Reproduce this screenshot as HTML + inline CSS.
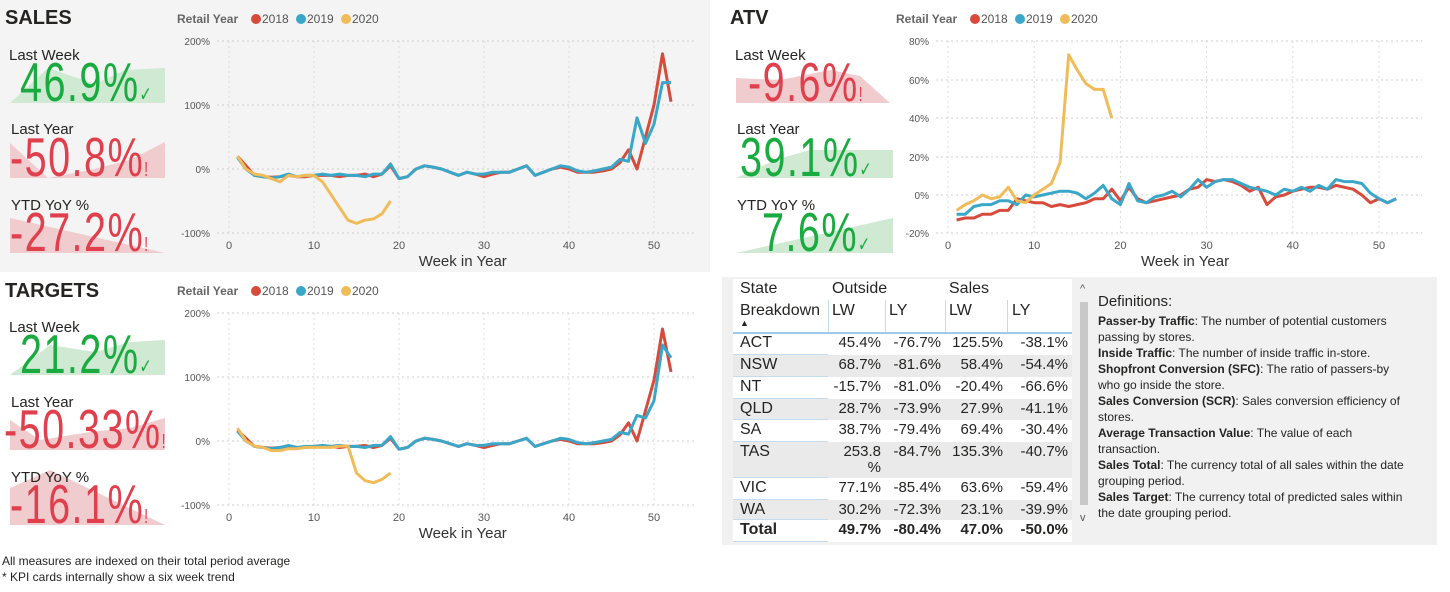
<!DOCTYPE html>
<html><head><meta charset="utf-8"><style>
*{margin:0;padding:0;box-sizing:border-box}
body{width:1450px;height:592px;background:#fff;position:relative;overflow:hidden;font-family:"Liberation Sans",sans-serif;color:#222}
.a{position:absolute;white-space:nowrap}
.ttl{font-weight:bold;font-size:20px;color:#252423}
.lbl{font-size:15px;color:#252423}
.big{font-size:55px;font-weight:300;transform:scaleX(.72);transform-origin:left top;letter-spacing:2px;line-height:50px}
.big span{font-size:20px}
.g{color:#1aab40}.r{color:#e0404d}
.tb{font-size:15px;color:#252423}
.def{font-size:12px;line-height:16px;color:#252423}
</style></head><body>
<div class="a" style="left:0;top:0;width:710px;height:272px;background:#f3f4f3"></div>
<div class="a" style="left:722px;top:277px;width:715px;height:268px;background:#f1f1f1"></div>
<div class="a" style="left:733px;top:279px;width:339px;height:263px;background:#fff"></div>
<svg class="a" style="left:0;top:0" width="1450" height="592" id="sv"></svg>

<div class="a ttl" style="left:5px;top:7px">SALES</div>
<div class="a ttl" style="left:730px;top:7px">ATV</div>
<div class="a ttl" style="left:5px;top:280px">TARGETS</div>

<div class="a lbl" style="left:9px;top:47px">Last Week</div>
<div class="a big g" style="left:20px;top:57px">46.9%<span>✓</span></div>
<div class="a lbl" style="left:11px;top:121px">Last Year</div>
<div class="a big r" style="left:10px;top:132px">-50.8%<span>!</span></div>
<div class="a lbl" style="left:11px;top:197px">YTD YoY %</div>
<div class="a big r" style="left:10px;top:207px">-27.2%<span>!</span></div>

<div class="a lbl" style="left:735px;top:47px">Last Week</div>
<div class="a big r" style="left:748px;top:57px">-9.6%<span>!</span></div>
<div class="a lbl" style="left:737px;top:121px">Last Year</div>
<div class="a big g" style="left:740px;top:132px">39.1%<span>✓</span></div>
<div class="a lbl" style="left:737px;top:197px">YTD YoY %</div>
<div class="a big g" style="left:762px;top:207px">7.6%<span>✓</span></div>

<div class="a lbl" style="left:9px;top:319px">Last Week</div>
<div class="a big g" style="left:20px;top:329px">21.2%<span>✓</span></div>
<div class="a lbl" style="left:11px;top:394px">Last Year</div>
<div class="a big r" style="left:4px;top:404px">-50.33%<span>!</span></div>
<div class="a lbl" style="left:11px;top:469px">YTD YoY %</div>
<div class="a big r" style="left:10px;top:479px">-16.1%<span>!</span></div>

<div class="a def" style="left:2px;top:553px">All measures are indexed on their total period average</div>
<div class="a def" style="left:2px;top:569px">* KPI cards internally show a six week trend</div>

<div class="a" style="left:1080px;top:283px;font-size:11px;color:#555">^</div>
<div class="a" style="left:1080px;top:302px;width:8px;height:203px;background:#c8c8c8"></div>
<div class="a" style="left:1080px;top:512px;font-size:11px;color:#555">v</div>
<div class="a def" style="left:1098px;top:294px;font-size:15px">Definitions:</div>
<div class="a def" style="left:1098px;top:313px;white-space:normal;width:310px">
<b>Passer-by Traffic</b>: The number of potential customers passing by stores.<br>
<b>Inside Traffic</b>: The number of inside traffic in-store.<br>
<b>Shopfront Conversion (SFC)</b>: The ratio of passers-by who go inside the store.<br>
<b>Sales Conversion (SCR)</b>: Sales conversion efficiency of stores.<br>
<b>Average Transaction Value</b>: The value of each transaction.<br>
<b>Sales Total</b>: The currency total of all sales within the date grouping period.<br>
<b>Sales Target</b>: The currency total of predicted sales within the date grouping period.</div>
<div id="tbl"></div>

<script>
var s=document.getElementById('sv'),h='';
function T(x,y,t,o){h+='<text x="'+x+'" y="'+y+'" '+(o||'')+'>'+t+'</text>';}
function area(pts,c){h+='<polygon points="'+pts+'" fill="'+c+'"/>';}
var G='#cfe9d3',R='#f1cccf';
area('10,103 48,68 95,84 125,70 165,68 165,103',G);
area('10,178 10,143 48,178 90,170 130,160 165,142 165,178',R);
area('10,253 10,218 165,253',R);
area('736,103 736,78 780,80 830,70 860,76 890,103','#f1cccf');
area('736,178 775,160 810,150 850,150 893,150 893,178',G);
area('736,253 893,218 893,253',G);
area('10,375 50,345 95,352 130,342 165,340 165,375',G);
area('10,450 10,420 40,440 90,432 130,428 165,418 165,450',R);
area('10,525 10,488 50,470 165,525',R);
function chart(x0,px,ys,yt,ylabs,ds){
 for(var i=0;i<ys.length;i++){h+='<line x1="'+(x0-12)+'" x2="'+(x0+px*55)+'" y1="'+ys[i]+'" y2="'+ys[i]+'" stroke="#ccc" stroke-dasharray="2,3"/>';T(x0-19,ys[i]+4,ylabs[i],'font-size="10" fill="#555" text-anchor="end"');}
 for(var w=0;w<=50;w+=10){var x=x0+w*px;h+='<line x1="'+x+'" x2="'+x+'" y1="'+ys[0]+'" y2="'+ys[ys.length-1]+'" stroke="#ddd" stroke-dasharray="2,3"/>';T(x,ys[ys.length-1]+16,w,'font-size="11" fill="#555" text-anchor="middle"');}
 T(x0+px*27.5,ys[ys.length-1]+33,'Week in Year','font-size="15" fill="#333" text-anchor="middle"');
 var lx=x0-52,ly=ys[0]-18;
 T(lx,ly,'Retail Year','font-size="12" font-weight="bold" fill="#666"');
 var c=['#d64b3c','#3aa7c9','#f0bc5a'],n=['2018','2019','2020'];
 for(var k=0;k<3;k++){var cx=lx+79+k*45;h+='<circle cx="'+cx+'" cy="'+(ly-4)+'" r="5" fill="'+c[k]+'"/>';T(cx+6,ly,n[k],'font-size="12" fill="#555"');}
 for(var k=0;k<3;k++){var p=ds[k].map(function(v,i){return (x0+(i+1)*px).toFixed(1)+','+(yt(v)).toFixed(1)}).join(' ');h+='<polyline points="'+p+'" fill="none" stroke="'+c[k]+'" stroke-width="3" stroke-linejoin="round"/>';}
}
var s18=[20,5,-10,-12,-13,-12,-10,-12,-12,-10,-10,-10,-12,-10,-10,-8,-12,-8,5,-15,-12,0,5,3,0,-5,-10,-5,-8,-12,-8,-5,-5,0,5,-10,-5,0,3,0,-5,-5,-5,-3,0,10,30,0,50,100,180,105];
var s19=[18,0,-10,-12,-14,-12,-8,-12,-10,-10,-8,-10,-8,-10,-10,-12,-8,-8,8,-15,-12,0,5,3,0,-5,-10,-5,-8,-8,-5,-5,-5,0,5,-10,-5,0,5,3,-3,-5,-3,0,3,15,12,80,40,70,135,135];
var s20=[20,0,-8,-10,-15,-20,-10,-12,-10,-10,-20,-40,-60,-80,-85,-80,-78,-70,-50];
chart(229,8.5,[41,105,169,233],function(v){return 169-v*0.64},['200%','100%','0%','-100%'],[s18,s19,s20]);
var t18=s18.map(function(v,i){return i>44?v*0.95:v*0.85}),t19=s19.map(function(v,i){return i==47?40:(i>44?v*0.9:v*0.85)});
t19[50]=150;t19[51]=130;t18[50]=175;t18[51]=108;
var t20=[20,0,-8,-10,-15,-15,-12,-12,-10,-10,-10,-10,-8,-8,-50,-62,-65,-60,-50];
chart(229,8.5,[313,377,441,505],function(v){return 441-v*0.64},['200%','100%','0%','-100%'],[t18,t19,t20]);
var a18=[-13,-12,-12,-10,-10,-8,-8,-2,-3,-4,-4,-6,-5,-6,-5,-4,-2,-2,3,-3,4,-2,-4,-3,-2,-1,0,3,4,8,7,8,7,5,2,4,-5,-1,0,2,3,4,4,3,5,4,3,0,-4,-2,-4,-2];
var a19=[-10,-10,-6,-5,-5,-3,-3,-5,0,-1,0,1,2,2,1,-2,1,5,-2,-5,6,-3,-4,-1,0,2,-1,3,8,4,7,8,8,6,4,3,2,0,3,2,4,2,5,3,8,7,7,6,1,-2,-4,-2];
var a20=[-8,-5,-3,0,-2,-1,4,-3,-4,0,3,6,17,73,65,58,55,55,40];
chart(948,8.62,[41,80,118,157,195,233],function(v){return 195-v*1.92},['80%','60%','40%','20%','0%','-20%'],[a18,a19,a20]);
s.innerHTML=h;
var rows=[['ACT','45.4%','-76.7%','125.5%','-38.1%'],['NSW','68.7%','-81.6%','58.4%','-54.4%'],['NT','-15.7%','-81.0%','-20.4%','-66.6%'],['QLD','28.7%','-73.9%','27.9%','-41.1%'],['SA','38.7%','-79.4%','69.4%','-30.4%'],['TAS','253.8<br>%','-84.7%','135.3%','-40.7%'],['VIC','77.1%','-85.4%','63.6%','-59.4%'],['WA','30.2%','-72.3%','23.1%','-39.9%'],['Total','49.7%','-80.4%','47.0%','-50.0%']];
var cx=[733,828,885,945,1007,1072],ty=[333,355,377,399,420,442,478,500,520,542],o='';
o+='<div class="a tb" style="left:740px;top:280px;font-size:16px">State</div><div class="a tb" style="left:832px;top:280px;font-size:16px">Outside</div><div class="a tb" style="left:949px;top:280px;font-size:16px">Sales</div>';
o+='<div class="a tb" style="left:740px;top:302px;font-size:16px">Breakdown</div><div class="a tb" style="left:832px;top:302px;font-size:16px">LW</div><div class="a tb" style="left:889px;top:302px;font-size:16px">LY</div><div class="a tb" style="left:949px;top:302px;font-size:16px">LW</div><div class="a tb" style="left:1012px;top:302px;font-size:16px">LY</div>';
o+='<div class="a" style="left:740px;top:318px;font-size:9px">▲</div><div class="a" style="left:733px;top:332px;width:339px;height:2px;background:#9ec9ea"></div>';
for(var i=0;i<9;i++){var y=ty[i],hh=ty[i+1]-y;if(i%2==1)o+='<div class="a" style="left:828px;top:'+y+'px;width:244px;height:'+hh+'px;background:#eaeaea"></div><div class="a" style="left:733px;top:'+y+'px;width:95px;height:'+hh+'px;background:#eaeaea"></div>';
 o+='<div class="a" style="left:733px;top:'+(y+hh-1)+'px;width:95px;height:1px;background:#c5dcf0"></div>';
 var b=i==8?'font-weight:bold;':'';
 o+='<div class="a tb" style="'+b+'left:740px;top:'+(y+1)+'px;font-size:16px">'+rows[i][0]+'</div>';
 for(var j=1;j<5;j++)o+='<div class="a tb" style="'+b+'left:'+cx[j]+'px;width:'+(cx[j+1]-cx[j]-4)+'px;text-align:right;top:'+(y+2)+'px;line-height:16px">'+rows[i][j]+'</div>';}
o+='<div class="a" style="left:828px;top:300px;width:1px;height:32px;background:#c5dcf0"></div><div class="a" style="left:885px;top:300px;width:1px;height:32px;background:#c5dcf0"></div><div class="a" style="left:945px;top:300px;width:1px;height:32px;background:#c5dcf0"></div><div class="a" style="left:1007px;top:300px;width:1px;height:32px;background:#c5dcf0"></div>';
document.getElementById('tbl').innerHTML=o;
</script>
</body></html>
